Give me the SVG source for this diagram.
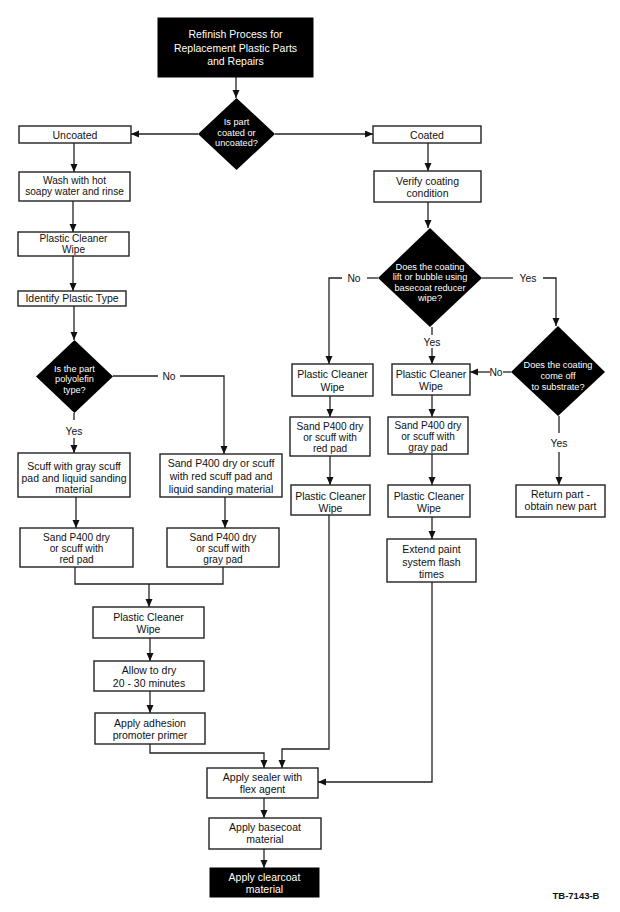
<svg xmlns="http://www.w3.org/2000/svg" width="620" height="912" viewBox="0 0 620 912">
<style>
text{font-family:"Liberation Sans",Arial,sans-serif;font-size:10.5px;fill:#111;text-anchor:middle}
.t{font-size:10.1px}
.box{fill:#fff;stroke:#222;stroke-width:1.4}
.blk{fill:#000;stroke:#000;stroke-width:1}
.w{fill:#fff}
.d{font-size:9.2px;fill:#fff}
.lab{font-size:10.3px}
.c path{fill:none;stroke:#222;stroke-width:1.3}
.c path.a{marker-end:url(#ah)}
</style>
<defs>
<marker id="ah" markerUnits="userSpaceOnUse" markerWidth="9" markerHeight="8" refX="8" refY="3.5" orient="auto">
<path d="M0,0 L8,3.5 L0,7 z" fill="#111"/>
</marker>
</defs>
<rect width="620" height="912" fill="#fff"/>

<g class="c" id="connectors">
<path class="a" d="M236,77 V98"/>
<path class="a" d="M198,134 H131"/>
<path class="a" d="M275,134 H373"/>
<path class="a" d="M74,143 V172"/>
<path class="a" d="M73,201 V232"/>
<path class="a" d="M73,256 V291"/>
<path class="a" d="M74,306 V340"/>
<path d="M74,413 V420"/>
<path class="a" d="M74,438 V453"/>
<path d="M113,376 H158"/>
<path class="a" d="M180,376 H224 V454"/>
<path class="a" d="M76,497 V528"/>
<path class="a" d="M225,497 V528"/>
<path d="M75,567 V584 H223 V567"/>
<path class="a" d="M149,584 V607"/>
<path class="a" d="M150,638 V661"/>
<path class="a" d="M150,691 V713"/>
<path class="a" d="M150,744 V753 H264 V768"/>
<path class="a" d="M428,143 V171"/>
<path class="a" d="M428,202 V228"/>
<path d="M378,278 H367"/>
<path class="a" d="M342,278 H329 V364"/>
<path d="M482,278 H513"/>
<path class="a" d="M543,278 H556 V326"/>
<path d="M432,327 V335"/>
<path class="a" d="M432,348 V364"/>
<path d="M511,372 H503"/>
<path class="a" d="M490,372 H470"/>
<path d="M559,416 V433"/>
<path class="a" d="M559,452 V485"/>
<path class="a" d="M330,396 V417"/>
<path class="a" d="M330,456 V485"/>
<path class="a" d="M329,515 V749 H282 V768"/>
<path class="a" d="M432,395 V417"/>
<path class="a" d="M432,454 V485"/>
<path class="a" d="M432,517 V539"/>
<path class="a" d="M432,582 V782 H318"/>
<path class="a" d="M264,798 V818"/>
<path class="a" d="M264,849 V868"/>
</g>

<g id="labels">
<text class="lab" x="74" y="435">Yes</text>
<text class="lab" x="169" y="380">No</text>
<text class="lab" x="354" y="282">No</text>
<text class="lab" x="528" y="282">Yes</text>
<text class="lab" x="432" y="346">Yes</text>
<text class="lab" x="496" y="376">No</text>
<text class="lab" x="559" y="447">Yes</text>
</g>

<g id="title"><rect class="blk" x="158" y="18" width="155" height="59"/>
<text class="w" x="235.5" y="38">Refinish Process for</text>
<text class="w" x="235.5" y="52">Replacement Plastic Parts</text>
<text class="w" x="235.5" y="65">and Repairs</text></g>

<g id="d1"><polygon points="236.5,98 275,134 236.5,170 198,134" fill="#000"/>
<text class="d" x="236.5" y="125">Is part</text>
<text class="d" x="236.5" y="135.5">coated or</text>
<text class="d" x="236.5" y="146">uncoated?</text></g>

<g id="uncoated"><rect class="box" x="19" y="126" width="112" height="17"/>
<text x="75" y="138.5">Uncoated</text></g>
<g id="coated"><rect class="box" x="373" y="126" width="108" height="17"/>
<text x="427" y="138.5">Coated</text></g>

<g id="wash"><rect class="box" x="19" y="172" width="111" height="29"/>
<text class="t" x="74.5" y="184">Wash with hot</text>
<text class="t" x="74.5" y="195">soapy water and rinse</text></g>

<g id="verify"><rect class="box" x="374" y="171" width="107" height="31"/>
<text x="427.5" y="185">Verify coating</text>
<text x="427.5" y="197">condition</text></g>

<g id="pcw1"><rect class="box" x="18" y="232" width="111" height="24"/>
<text class="t" x="73.5" y="242">Plastic Cleaner</text>
<text class="t" x="73.5" y="253">Wipe</text></g>

<g id="identify"><rect class="box" x="18" y="291" width="108" height="15"/>
<text x="72" y="302">Identify Plastic Type</text></g>

<g id="d2"><polygon points="74.5,340 113,376.5 74.5,413 36,376.5" fill="#000"/>
<text class="d" x="74.5" y="371.5">Is the part</text>
<text class="d" x="74.5" y="381.5">polyolefin</text>
<text class="d" x="74.5" y="392.5">type?</text></g>

<g id="scuffgray"><rect class="box" x="18" y="453" width="112" height="44"/>
<text x="74" y="470">Scuff with gray scuff</text>
<text x="74" y="482">pad and liquid sanding</text>
<text x="74" y="493">material</text></g>

<g id="sandredscuff"><rect class="box" x="160" y="454" width="122" height="43"/>
<text x="221" y="467">Sand P400 dry or scuff</text>
<text x="221" y="480">with red scuff pad and</text>
<text x="221" y="493">liquid sanding material</text></g>

<g id="sandred1"><rect class="box" x="20" y="528" width="113" height="39"/>
<text class="t" x="76.5" y="540.5">Sand P400 dry</text>
<text class="t" x="76.5" y="551.5">or scuff with</text>
<text class="t" x="76.5" y="562.5">red pad</text></g>

<g id="sandgray1"><rect class="box" x="167" y="528" width="112" height="39"/>
<text class="t" x="223" y="540.5">Sand P400 dry</text>
<text class="t" x="223" y="551.5">or scuff with</text>
<text class="t" x="223" y="562.5">gray pad</text></g>

<g id="pcw3"><rect class="box" x="93" y="607" width="111" height="31"/>
<text x="148.5" y="621">Plastic Cleaner</text>
<text x="148.5" y="633">Wipe</text></g>

<g id="allow"><rect class="box" x="94" y="661" width="110" height="30"/>
<text x="149" y="674">Allow to dry</text>
<text x="149" y="687">20 - 30 minutes</text></g>

<g id="adhesion"><rect class="box" x="95" y="713" width="110" height="31"/>
<text x="150" y="727">Apply adhesion</text>
<text x="150" y="739">promoter primer</text></g>

<g id="d3"><polygon points="430,228 482,278 430,327 378,278" fill="#000"/>
<text class="d" x="430" y="269.5">Does the coating</text>
<text class="d" x="430" y="280">lift or bubble using</text>
<text class="d" x="430" y="290.5">basecoat reducer</text>
<text class="d" x="430" y="301">wipe?</text></g>

<g id="d4"><polygon points="558,326 605,372 558,416 511,372" fill="#000"/>
<text class="d" x="558" y="367.5">Does the coating</text>
<text class="d" x="558" y="378.5">come off</text>
<text class="d" x="558" y="389.5">to substrate?</text></g>

<g id="pcwA"><rect class="box" x="292" y="364" width="81" height="32"/>
<text x="332.5" y="378">Plastic Cleaner</text>
<text x="332.5" y="391">Wipe</text></g>

<g id="sandA"><rect class="box" x="290" y="417" width="80" height="39"/>
<text class="t" x="330" y="429.5">Sand P400 dry</text>
<text class="t" x="330" y="440.5">or scuff with</text>
<text class="t" x="330" y="451.5">red pad</text></g>

<g id="pcwA2"><rect class="box" x="291" y="485" width="79" height="30"/>
<text x="330.5" y="500">Plastic Cleaner</text>
<text x="330.5" y="512">Wipe</text></g>

<g id="pcwB"><rect class="box" x="392" y="364" width="78" height="31"/>
<text x="431" y="378">Plastic Cleaner</text>
<text x="431" y="390">Wipe</text></g>

<g id="sandB"><rect class="box" x="388" y="417" width="80" height="37"/>
<text class="t" x="428" y="429">Sand P400 dry</text>
<text class="t" x="428" y="440">or scuff with</text>
<text class="t" x="428" y="451">gray pad</text></g>

<g id="pcwB2"><rect class="box" x="388" y="485" width="82" height="32"/>
<text x="429" y="500">Plastic Cleaner</text>
<text x="429" y="512">Wipe</text></g>

<g id="extend"><rect class="box" x="387" y="539" width="89" height="43"/>
<text x="431.5" y="553">Extend paint</text>
<text x="431.5" y="566">system flash</text>
<text x="431.5" y="578">times</text></g>

<g id="return"><rect class="box" x="516" y="485" width="89" height="32"/>
<text x="560.5" y="498">Return part -</text>
<text x="560.5" y="510">obtain new part</text></g>

<g id="sealer"><rect class="box" x="207" y="768" width="111" height="30"/>
<text x="262.5" y="781">Apply sealer with</text>
<text x="262.5" y="793">flex agent</text></g>

<g id="basecoat"><rect class="box" x="209" y="818" width="112" height="31"/>
<text x="265" y="831">Apply basecoat</text>
<text x="265" y="843">material</text></g>

<g id="clearcoat"><rect class="blk" x="210" y="868" width="109" height="29"/>
<text class="w" x="264.5" y="881">Apply clearcoat</text>
<text class="w" x="264.5" y="893">material</text></g>

<text x="576" y="899" style="font-size:9.5px;font-weight:bold">TB-7143-B</text>
</svg>
